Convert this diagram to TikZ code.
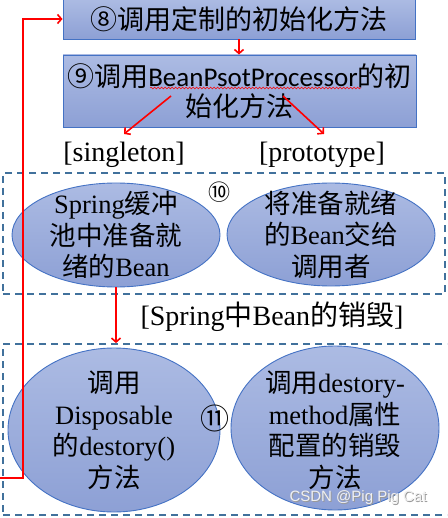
\documentclass[tikz,border=0pt]{standalone}
\usepackage{fontspec}
\setmainfont{Liberation Serif}
\newfontfamily\cjk{Noto Sans CJK SC}
\newfontfamily\calib{Carlito}
\newfontfamily\wmfont{Liberation Sans}
\usetikzlibrary{arrows.meta, shapes.geometric, decorations.pathmorphing}
\newcommand{\zh}[1]{{\cjk #1}}
\definecolor{boxtop}{RGB}{172,187,227}
\definecolor{boxbot}{RGB}{141,160,213}
\definecolor{boxline}{RGB}{68,114,196}
\definecolor{grpline}{RGB}{65,113,156}
\tikzset{
	stepbox/.style={draw=boxline, line width=0.9pt, top color=boxtop, bottom color=boxbot, inner sep=0pt},
	ell/.style={ellipse, stepbox},
	etxt/.style={align=center, inner sep=0pt, font=\fontsize{26.5}{31.5}\selectfont},
	grp/.style={draw=grpline, line width=1.8pt, dash pattern=on 7pt off 5pt, inner sep=0pt},
	flow/.style={red, line width=1.6pt, -{Straight Barb[length=4pt, width=9pt]}},
	tag/.style={inner sep=0pt, font=\fontsize{28}{30}\selectfont},
	wm/.style={inner sep=0pt, font=\wmfont\fontsize{15}{16}\selectfont}
}

\begin{document}
\begin{tikzpicture}[x=1pt, y=-1pt, line cap=butt]
	\useasboundingbox (0,0) rectangle (447,518);
	\clip (0,0) rectangle (447,518);

	% boxes 8 and 9
	\node[stepbox, minimum width=352pt, minimum height=40pt] (init) at (239,19)
		{\cjk\fontsize{27}{30}\selectfont ⑧调用定制的初始化方法};
	\node[stepbox, minimum width=353pt, minimum height=72pt, align=center,
		font=\fontsize{27}{30}\selectfont] (bpp) at (239.5,91)
		{\zh{⑨调用}{\calib BeanPsotProcessor}\zh{的初}\\\zh{始化方法}};
	\draw[red, line width=0.5pt, decorate, decoration={snake, segment length=3.5pt, amplitude=0.9pt}]
		(150,88) -- (361,88);

	\draw[flow] (init.south) -- (init.south |- bpp.north);

	\coordinate (sgA) at (171,96);
	\coordinate (sgB) at (124,134);
	\coordinate (ptA) at (283,96);
	\coordinate (ptB) at (324,134);
	\draw[flow] (sgA) -- (sgB);
	\draw[flow] (ptA) -- (ptB);

	\node[tag] (single) at (124,155) {[singleton]};
	\node[tag] (proto) at (322,155) {[prototype]};

	% step 10
	\node[grp, minimum width=442pt, minimum height=121pt] (ready) at (224,233.5) {};
	\node[ell, minimum width=208pt, minimum height=104pt] (pool) at (116,235) {};
	\node[etxt] (poolT) at (pool.center) {Spring\zh{缓冲}\\\zh{池中准备就}\\\zh{绪的}Bean};
	\node[ell, minimum width=208pt, minimum height=103pt] (give) at (331,234.5) {};
	\node[etxt] (giveT) at (give.center) {\zh{将准备就绪}\\\zh{的}Bean\zh{交给}\\\zh{调用者}};
	\node[inner sep=0pt, font=\cjk\fontsize{22}{24}\selectfont] (ten) at (219,192) {⑩};

	\node[tag] (destroy) at (272,317) {[Spring\zh{中}Bean\zh{的销毁}]};

	% step 11
	\node[grp, minimum width=446pt, minimum height=171pt] (kill) at (226,429.5) {};
	\node[ell, minimum width=212pt, minimum height=164pt] (disp) at (114,430) {};
	\node[etxt] (dispT) at (disp.center) {\zh{调用}\\Disposable\\\zh{的}destory()\\\zh{方法}};
	\node[ell, minimum width=208pt, minimum height=164pt] (meth) at (335,428) {};
	\node[etxt] (methT) at ([yshift=-2pt]meth.center) {\zh{调用}destory-\\method\zh{属性}\\\zh{配置的销毁}\\\zh{方法}};
	\node[inner sep=0pt, font=\cjk\fontsize{29}{30}\selectfont] (eleven) at (215,418) {⑪};

	\draw[flow] (pool.south) -- (pool.south |- kill.north);

	% loop back
	\coordinate (back) at (-3,478);
	\draw[flow] (back) -- (23,478) -- (23,19) -- (init.west);

	% watermark
	\node[wm, text=gray!80] (markS) at (359,499) {CSDN @Pig Pig Cat};
	\node[wm, text=white!88!gray] (mark) at (358,498) {CSDN @Pig Pig Cat};
\end{tikzpicture}
\end{document}
